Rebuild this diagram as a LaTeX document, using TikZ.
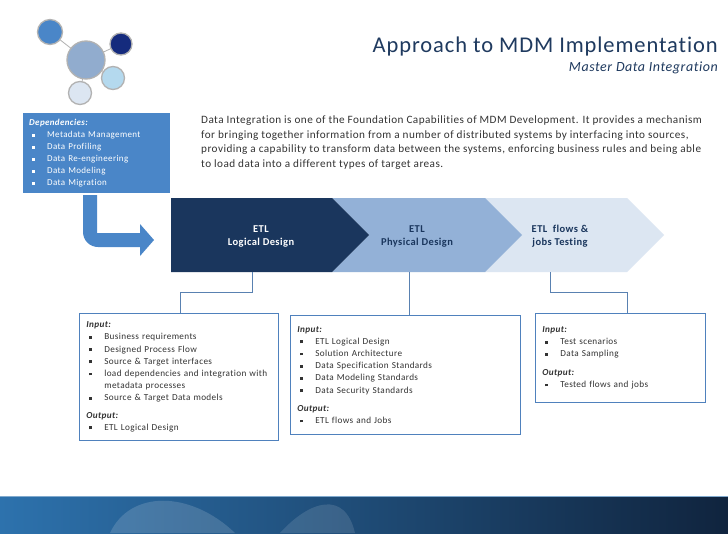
\documentclass[tikz,border=0pt]{standalone}
\usepackage{fontspec}
\setmainfont[Ligatures=NoCommon,LetterSpace=4]{Carlito}
\definecolor{navy}{HTML}{1A365D}
\definecolor{midb}{HTML}{93B1D7}
\definecolor{paleb}{HTML}{DCE6F2}
\definecolor{depb}{HTML}{4A86C8}
\definecolor{titlec}{HTML}{1F3A5F}
\definecolor{txt}{HTML}{333333}
\definecolor{boxln}{HTML}{4F81BD}
\definecolor{bandl}{HTML}{2D72AD}
\definecolor{bandr}{HTML}{10243E}
\newcommand{\bl}{\hspace*{3pt}\makebox[15pt][l]{\rule[1pt]{2.8pt}{2.8pt}}}
\newcommand{\ind}{\hspace*{18pt}}
\begin{document}
\begin{tikzpicture}[x=1pt,y=-1pt,
  circ/.style={draw=gray!60,line width=1.3pt,circle,inner sep=0pt},
  stagebox/.style={draw=boxln,line width=0.6pt,fill=white,anchor=north west,align=left,inner xsep=7pt,inner ysep=4pt,font=\fontsize{9.2}{12.2}\selectfont,text=txt},
  conn/.style={draw=boxln!80!gray,line width=0.7pt},
  stagetxt/.style={font=\fontsize{10.5}{13}\selectfont\bfseries,align=center}]
\useasboundingbox (0,0) rectangle (728,546);
\fill[white] (0,0) rectangle (728,546);
% title
\node[anchor=base east,inner sep=0pt,text=titlec,font=\fontsize{22.5}{24}\selectfont] (title) at (718,52) {Approach to MDM Implementation};
\node[anchor=base east,inner sep=0pt,text=titlec,font=\fontsize{14}{15}\selectfont\itshape] (sub) at (718,71) {Master Data Integration};
% circles
\coordinate (cc) at (86,60);
\draw[gray!60,line width=0.8pt] (cc)--(50,32) (cc)--(121,44) (cc)--(113,78) (cc)--(80,93);
\node[circ,fill=depb,minimum size=25pt] (c1) at (50,32) {};
\node[circ,fill=midb!90!gray,minimum size=38pt] (c0) at (cc) {};
\node[circ,fill=navy!80!blue,minimum size=22pt] (c2) at (121,44) {};
\node[circ,fill=cyan!20!paleb,minimum size=23pt] (c3) at (113,78) {};
\node[circ,fill=paleb,minimum size=23pt] (c4) at (80,93) {};
% dependencies
\node[fill=depb,anchor=north west,minimum width=147pt,minimum height=80pt,text width=135pt,inner xsep=6pt,inner ysep=3pt,align=left,text=white,font=\fontsize{9}{12}\selectfont] (dep) at (23,113) {\textbf{\textit{Dependencies:}}\\
\bl Metadata Management\\ \bl Data Profiling\\ \bl Data Re-engineering\\ \bl Data Modeling\\ \bl Data Migration};
% bent arrow
\fill[depb] (83,195) -- (83,232) arc[start angle=180,end angle=90,radius=15] -- (140,247) -- (140,256) -- (154,240) -- (140,224) -- (140,233) -- (97,233) -- (97,195) -- cycle;
% paragraph
\node[anchor=north west,align=left,inner sep=0pt,text=txt,font=\fontsize{11.2}{14.4}\selectfont] (para) at (201,116) {Data Integration is one of the Foundation Capabilities of MDM Development. It provides a mechanism\\ for bringing together information from a number of distributed systems by interfacing into sources,\\ providing a capability to transform data between the systems, enforcing business rules and being able\\ to load data into a different types of target areas.};
% chevrons
\fill[paleb] (485,198) -- (627,198) -- (664,235) -- (627,272) -- (485,272) -- (522,235) -- cycle;
\fill[midb] (332,198) -- (485,198) -- (522,235) -- (485,272) -- (332,272) -- (369,235) -- cycle;
\fill[navy] (171,198) -- (332,198) -- (369,235) -- (332,272) -- (171,272) -- cycle;
\node[stagetxt,text=white] (s1) at (261,236) {ETL\\Logical Design};
\node[stagetxt,text=navy] (s2) at (417,236) {ETL\\Physical Design};
\node[stagetxt,text=navy] (s3) at (560,236) {ETL\ \ flows \&\\jobs Testing};
% boxes
\node[stagebox,minimum width=199pt,minimum height=127pt,text width=185pt] (b1) at (79,313) {\textbf{\textit{Input:}}\\
\bl Business requirements\\ \bl Designed Process Flow\\ \bl Source \& Target interfaces\\ \bl load dependencies and integration with\\ \ind metadata processes\\ \bl Source \& Target Data models\\[5pt]
\textbf{\textit{Output:}}\\ \bl ETL Logical Design};
\node[stagebox,minimum width=230pt,minimum height=119pt,text width=216pt] (b2) at (290,315) {\textbf{\textit{Input:}}\\
\bl ETL Logical Design\\ \bl Solution Architecture\\ \bl Data Specification Standards\\ \bl Data Modeling Standards\\ \bl Data Security Standards\\[6pt]
\textbf{\textit{Output:}}\\ \bl ETL flows and Jobs};
\node[stagebox,minimum width=170pt,minimum height=89pt,text width=156pt] (b3) at (535,313) {\textbf{\textit{Input:}}\\
\bl Test scenarios\\ \bl Data Sampling\\[6pt]
\textbf{\textit{Output:}}\\ \bl Tested flows and jobs};
% connectors
\coordinate (k1) at (252,272);
\coordinate (k2) at (409,272);
\coordinate (k3) at (550,272);
\draw[conn] (k1) -- (252,292) -- (180,292) -- (180,313);
\draw[conn] (k2) -- (b2.north -| k2);
\draw[conn] (k3) -- (550,292) -- (627,292) -- (627,313);
% bottom band
\shade[left color=bandl,right color=bandr] (0,496) rectangle (728,533);
\fill[white,opacity=0.15] (110,533) .. controls (130,490) and (190,490) .. (235,533) -- cycle;
\fill[white,opacity=0.12] (280,533) .. controls (310,500) and (345,490) .. (355,533) -- cycle;
\draw[bandl!60!white,line width=0.8pt] (0,496) -- (728,496);
\end{tikzpicture}
\end{document}
